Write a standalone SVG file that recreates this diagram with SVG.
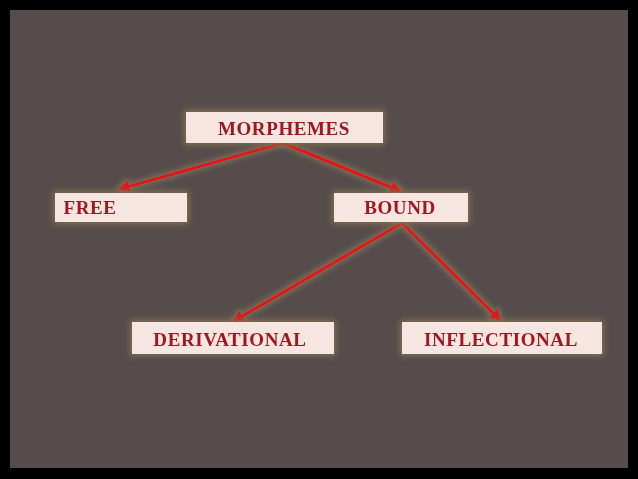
<svg xmlns="http://www.w3.org/2000/svg" width="638" height="479" viewBox="0 0 638 479">
<style>
.box{fill:#f5e6e2}
.t{font-family:"Liberation Serif",serif;font-weight:bold;font-size:19px;fill:#a3141e;text-anchor:middle;letter-spacing:0.6px}
.c{stroke:#e01414;stroke-width:3;fill:none;marker-end:url(#a)}
</style>
<defs>
<filter id="g" x="-20%" y="-40%" width="140%" height="180%"><feMorphology in="SourceAlpha" operator="dilate" radius="2"/><feGaussianBlur stdDeviation="3"/><feColorMatrix values="0 0 0 0 0.22 0 0 0 0 0.16 0 0 0 0 0.08 0 0 0 1 0"/><feMerge><feMergeNode/><feMergeNode in="SourceGraphic"/></feMerge></filter>
<filter id="lg" x="-20%" y="-20%" width="140%" height="140%"><feMorphology in="SourceAlpha" operator="dilate" radius="2"/><feGaussianBlur stdDeviation="2.5"/><feColorMatrix values="0 0 0 0 0.2 0 0 0 0 0.15 0 0 0 0 0.1 0 0 0 0.9 0"/><feMerge><feMergeNode/><feMergeNode in="SourceGraphic"/></feMerge></filter>
<marker id="a" viewBox="0 0 10 10" refX="8" refY="5" markerWidth="4" markerHeight="4" orient="auto"><path d="M0,0L10,5L0,10z" fill="#e01414"/></marker>
</defs>
<rect width="638" height="479" fill="#000"/>
<rect x="10" y="10" width="618" height="458" fill="#554c4b"/>
<g id="connectors" filter="url(#lg)">
<line class="c" x1="283" y1="143" x2="120" y2="189"/>
<line class="c" x1="283" y1="143" x2="400" y2="191"/>
<line class="c" x1="402" y1="223" x2="234" y2="321"/>
<line class="c" x1="402" y1="223" x2="500" y2="320"/>
</g>
<g id="morphemes" filter="url(#g)"><rect class="box" x="186" y="112" width="197" height="31"/><text class="t" x="284" y="135">MORPHEMES</text></g>
<g id="free" filter="url(#g)"><rect class="box" x="55" y="193" width="132" height="29"/><text class="t" x="90" y="214">FREE</text></g>
<g id="bound" filter="url(#g)"><rect class="box" x="334" y="193" width="134" height="29"/><text class="t" x="400" y="214">BOUND</text></g>
<g id="derivational" filter="url(#g)"><rect class="box" x="132" y="322" width="202" height="32"/><text class="t" x="230" y="346">DERIVATIONAL</text></g>
<g id="inflectional" filter="url(#g)"><rect class="box" x="402" y="322" width="200" height="32"/><text class="t" x="501" y="346">INFLECTIONAL</text></g>
</svg>
